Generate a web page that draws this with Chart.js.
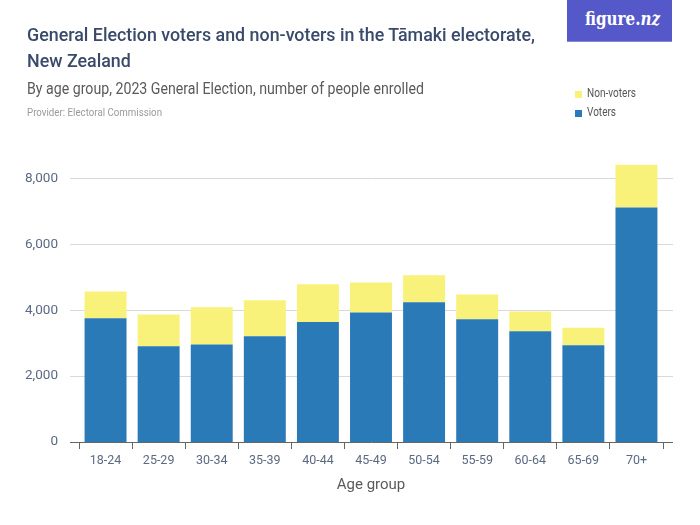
<!DOCTYPE html>
<html>
<head>
<meta charset="utf-8">
<script src="https://cdn.jsdelivr.net/npm/chart.js@4/dist/chart.umd.min.js"></script>
<style>
  body { margin: 0; background: #fff; }
  #wrap { position: relative; width: 700px; height: 525px; font-family: Roboto, sans-serif; }
  #chart { position: absolute; left: 0; top: 0; }
  .txt { position: absolute; white-space: nowrap; transform-origin: 0 0; }
  #title { left: 27px; top: 22px; font-size: 19px; font-weight: 500; color: #3a4a6b; line-height: 26px; }
  #subtitle { left: 27px; top: 79px; font-size: 16.5px; color: #5a5a5a; }
  #provider { left: 27px; top: 106px; font-size: 11px; color: #9a9a9a; }
  #logo { position: absolute; left: 567px; top: 0; width: 105px; height: 41px; background: #5558c8; border-bottom: 1px solid #8486d8; }
  #logoText { position: absolute; left: 18px; top: 7px; color: #fff; font-family: "DejaVu Serif", serif; font-weight: bold; font-size: 19px; white-space: nowrap; transform-origin: 0 0; }
  #legend { position: absolute; left: 575px; top: 86px; font-size: 12px; color: #555; }
  #legend div { height: 19px; line-height: 15px; white-space: nowrap; }
  #legend span.sw { display: inline-block; width: 7px; height: 7px; margin-right: 5px; vertical-align: -1px; }
  #legend span.lb { display: inline-block; transform-origin: 0 50%; }
</style>
</head>
<body>
<div id="wrap">
  <canvas id="chart" width="700" height="525"></canvas>
  <div class="txt" id="title"><span id="t1">General Election voters and non-voters in the Tāmaki electorate,</span><br>New Zealand</div>
  <div class="txt" id="subtitle">By age group, 2023 General Election, number of people enrolled</div>
  <div class="txt" id="provider">Provider: Electoral Commission</div>
  <div id="logo"><div id="logoText">figure.<i>nz</i></div></div>
  <div id="legend"></div>
</div>
<script>
// datos
const ageGroups = ['18-24', '25-29', '30-34', '35-39', '40-44', '45-49', '50-54', '55-59', '60-64', '65-69', '70+'];
const voters = [3760, 2910, 2960, 3210, 3640, 3930, 4240, 3730, 3360, 2940, 7120];
const nonVoters = [810, 960, 1130, 1090, 1150, 910, 820, 750, 600, 525, 1300];
const yTicks = [0, 2000, 4000, 6000, 8000];

const blue = '#2a7ab8';
const yellow = '#f9f27a';
const tickColor = '#5b6983';

// lineas de la cuadricula un poco mas anchas que el area del grafico
const gridLines = {
  id: 'gridLines',
  beforeDatasetsDraw(chart) {
    const ctx = chart.ctx;
    const y = chart.scales.y;
    ctx.save();
    ctx.lineWidth = 1;
    ctx.strokeStyle = '#d9d9d9';
    yTicks.forEach(v => {
      if (v === 0) return;
      const py = Math.round(y.getPixelForValue(v)) + 0.5;
      ctx.beginPath();
      ctx.moveTo(70, py);
      ctx.lineTo(673, py);
      ctx.stroke();
    });
    ctx.restore();
  },
  afterDatasetsDraw(chart) {
    const ctx = chart.ctx;
    const py = Math.round(chart.scales.y.getPixelForValue(0)) + 0.5;
    ctx.save();
    ctx.strokeStyle = '#666';
    ctx.lineWidth = 1;
    ctx.beginPath();
    ctx.moveTo(70, py);
    ctx.lineTo(673, py);
    ctx.stroke();
    ctx.restore();
  }
};

const data = {
  labels: ageGroups,
  datasets: [{
    label: 'Voters',
    data: voters,
    backgroundColor: blue
  }, {
    label: 'Non-voters',
    data: nonVoters,
    backgroundColor: yellow
  }]
};

const config = {
  type: 'bar',
  data: data,
  plugins: [gridLines],
  options: {
    responsive: false,
    animation: false,
    layout: { padding: { top: 162, right: 37, bottom: 21, left: 0 } },
    datasets: { bar: { categoryPercentage: 1, barPercentage: 0.79 } },
    plugins: {
      legend: { display: false },
      tooltip: { enabled: false }
    },
    scales: {
      x: {
        stacked: true,
        afterFit(scale) { scale.height = 62; },
        grid: { display: true, drawOnChartArea: false, tickLength: 7, color: '#666' },
        border: { display: false },
        ticks: { color: tickColor, padding: 4, font: { family: 'Roboto', size: 12.5 } },
        title: {
          display: true,
          text: 'Age group',
          color: '#5a5a5a',
          padding: { top: 4, bottom: 10 },
          font: { family: 'Roboto', size: 15 }
        }
      },
      y: {
        stacked: true,
        min: 0,
        max: 8500,
        afterFit(scale) { scale.width = 79; },
        afterBuildTicks(scale) { scale.ticks = yTicks.map(v => ({ value: v })); },
        grid: { display: false },
        border: { display: false },
        ticks: {
          color: tickColor,
          padding: 13,
          font: { family: 'Roboto', size: 13.5 },
          callback: v => v.toLocaleString('en-US')
        }
      }
    }
  }
};

const electionChart = new Chart(document.getElementById('chart'), config);

// leyenda en html, no-votantes arriba
const legend = document.getElementById('legend');
electionChart.data.datasets.slice().reverse().forEach(ds => {
  const row = document.createElement('div');
  row.innerHTML = '<span class="sw" style="background:' + ds.backgroundColor + '"></span><span class="lb">' + ds.label + '</span>';
  legend.appendChild(row);
});

// la fuente original es condensada: se estrecha el texto al ancho medido
function squeeze(el, measure, target) {
  const w = measure.getBoundingClientRect().width;
  if (w > target) el.style.transform = 'scaleX(' + (target / w) + ')';
}
squeeze(document.getElementById('title'), document.getElementById('t1'), 508);
squeeze(document.getElementById('subtitle'), document.getElementById('subtitle'), 397);
squeeze(document.getElementById('provider'), document.getElementById('provider'), 135);
squeeze(document.getElementById('logoText'), document.getElementById('logoText'), 75);
const lbs = legend.querySelectorAll('span.lb');
squeeze(lbs[0], lbs[0], 49);
squeeze(lbs[1], lbs[1], 29);
</script>
</body>
</html>
